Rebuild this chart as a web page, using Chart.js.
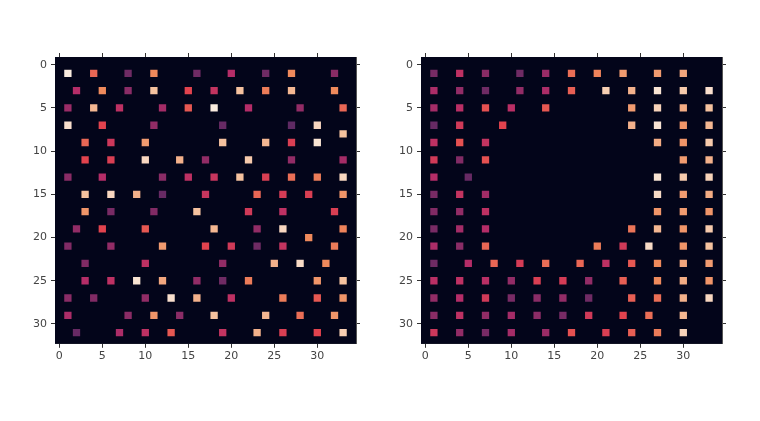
<!DOCTYPE html>
<html><head><meta charset="utf-8">
<script src="https://cdn.jsdelivr.net/npm/chart.js@4"></script>
<style>
html,body{margin:0;padding:0;background:#fff;width:760px;height:421px;overflow:hidden}
.box{position:absolute;top:0;width:380px;height:421px}
</style></head><body>
<div class="box" style="left:0"><canvas id="c1"></canvas></div>
<div class="box" style="left:380px"><canvas id="c2"></canvas></div>
<script>
// rows: [row, [col, value], ...]
const leftRows = [
 [1, [1,6],[4,3.5],[8,1.2],[11,4],[16,1.2],[20,2],[24,1.2],[27,4],[32,1.5]],
 [3, [2,2],[5,4],[8,1.5],[11,5],[15,3],[18,2.3],[21,5],[24,3.8],[27,4.8],[32,4]],
 [5, [1,1.7],[4,4.8],[7,2.2],[12,1.8],[15,3.3],[18,6],[22,2],[28,1.6],[33,3.5]],
 [7, [1,5.7],[5,3],[11,1.6],[19,1.1],[27,1],[30,5.5]],
 [8, [33,5]],
 [9, [3,3.5],[6,2.5],[10,4.3],[19,5],[24,4.8],[27,2.8],[30,5.8]],
 [11,[3,3],[6,2.8],[10,5.5],[14,4.7],[17,1.6],[22,5.2],[27,1.6],[33,1.8]],
 [13,[1,1.5],[5,2],[12,1.5],[15,2.2],[18,2.4],[21,5],[24,2.8],[27,3.6],[30,3.8],[33,5.5]],
 [15,[3,5],[6,5.5],[9,4.7],[12,1.1],[17,2.4],[23,3.5],[26,2.7],[29,2.8],[33,4.2]],
 [17,[3,4.2],[6,1.3],[11,1.4],[16,5],[22,2.6],[26,2.2],[32,2.8]],
 [19,[2,1.6],[5,3],[10,3.3],[18,4.8],[23,1.6],[26,5.5],[33,3.9]],
 [20,[29,4]],
 [21,[1,1.4],[6,1.6],[12,4.3],[17,3],[20,2.6],[23,1.2],[26,2.3],[32,3.8]],
 [23,[3,1.4],[10,2.2],[19,1.6],[25,4.7],[28,5.6],[31,4]],
 [25,[3,2],[6,2.2],[9,5.8],[12,4.5],[16,1.6],[19,1.2],[22,3.8],[30,4.2],[33,5]],
 [27,[1,1.5],[4,1.4],[10,1.6],[13,5.7],[16,4.7],[20,2.2],[26,3.8],[30,3.3],[33,4.2]],
 [29,[1,1.9],[8,1.5],[11,4.2],[14,1.5],[18,5],[24,4.8],[28,3.6],[32,4.2]],
 [31,[2,1.1],[7,1.9],[10,2.2],[13,3.3],[19,2.3],[23,4.7],[26,2.8],[30,3],[33,5.3]]
];
const rightRows = [
 [1, [1,1.3],[4,2.2],[7,1.5],[11,1.2],[14,1.7],[17,3.6],[20,3.9],[23,4.3],[27,4.3],[30,4.5]],
 [3, [1,1.9],[4,1.6],[7,1.2],[11,1.6],[14,1.9],[17,3.4],[21,5.3],[24,4.7],[27,5.8],[30,5.2],[33,5.7]],
 [5, [1,1.8],[4,2.1],[7,3.2],[10,2.1],[14,3.3],[24,4.3],[27,5.4],[30,4.6],[33,5]],
 [7, [1,1.1],[4,2.6],[9,3],[24,4.7],[27,5.8],[30,4.2],[33,4.8]],
 [9, [1,2.2],[4,3.2],[7,2.3],[27,4.6],[30,4.2],[33,5.2]],
 [11,[1,2.6],[4,1.4],[7,3.2],[30,4.3],[33,4.7]],
 [13,[1,2],[5,1.1],[27,5.8],[30,5.2],[33,5.4]],
 [15,[1,1.3],[4,2.3],[7,1.8],[27,5.6],[30,4.3],[33,4.6]],
 [17,[1,1.4],[4,1.6],[7,2.2],[27,4.2],[30,4.3],[33,4.2]],
 [19,[1,1.3],[4,1.8],[7,2],[24,3.7],[27,4.8],[30,4.2],[33,5.2]],
 [21,[1,1.9],[4,1.5],[7,3.5],[20,3.8],[23,2.6],[26,5.6],[30,4.2],[33,5]],
 [23,[1,1.2],[5,2],[8,3.5],[11,2.7],[14,3.6],[18,3.5],[21,2.2],[24,3.3],[27,4],[30,4.5],[33,4.3]],
 [25,[1,2.1],[4,2.2],[7,2.1],[10,1.6],[13,2.8],[16,2.7],[19,1.6],[23,3.4],[27,4],[30,4.6],[33,4.2]],
 [27,[1,1.6],[4,2],[7,2.6],[10,1.3],[13,1.5],[16,1.6],[19,1.2],[24,3.4],[27,3.6],[30,4.7],[33,5.5]],
 [29,[1,1.5],[4,2.2],[7,1.6],[10,1.8],[13,1.5],[16,1.3],[19,2.6],[23,3],[26,3.6],[30,4.8]],
 [31,[1,2.5],[4,1.6],[7,1.3],[10,1.8],[14,1.7],[17,3.2],[21,2.8],[24,3.4],[27,3.8],[30,5.4]]
];
const tickValues = [0,5,10,15,20,25,30];

const stops = [[0x5e,0x2a,0x63],[0xb5,0x2d,0x68],[0xe2,0x43,0x4e],[0xef,0x8a,0x5c],[0xf5,0xc2,0x9f],[0xfa,0xec,0xe0]];
function cmap(v){
  let t = Math.max(0, Math.min(4.999, v-1)); const i = Math.floor(t), f = t-i;
  const a=stops[i], b=stops[i+1];
  return `rgb(${a.map((c,k)=>Math.round(c+(b[k]-c)*f)).join(',')})`;
}
function toPoints(rows){
  const pts=[]; rows.forEach(r=>{ for(let k=1;k<r.length;k++) pts.push({x:r[k][0], y:r[0], v:r[k][1]}); });
  return pts;
}
const bgPlugin = {id:'bg', beforeDatasetsDraw(ch){const a=ch.chartArea,c=ch.ctx;c.save();c.fillStyle='#03051a';c.fillRect(a.left,a.top,a.right-a.left,a.bottom-a.top);c.restore();}};
function setTicks(s){ s.ticks = tickValues.map(v=>({value:v})); }
function make(id, rows, padL, padR){
  const axisCommon = {grid:{drawOnChartArea:false, drawTicks:true, tickLength:4, color:'#333'}, border:{color:'#555'}, afterBuildTicks:setTicks};
  const rad = c=>{const s=c.chart.scales.x; return Math.abs(s.getPixelForValue(1)-s.getPixelForValue(0))*0.85/Math.SQRT2;};
  new Chart(document.getElementById(id), {
    type:'scatter',
    data:{datasets:[{data:toPoints(rows), pointStyle:'rect',
      backgroundColor:c=>c.raw?cmap(c.raw.v):'#000', borderWidth:0,
      pointRadius:rad, pointHoverRadius:rad}]},
    options:{responsive:false, animation:false, events:[],
      layout:{padding:{left:padL, right:padR, top:52, bottom:56}},
      plugins:{legend:{display:false}, tooltip:{enabled:false}},
      scales:{
        x:{...axisCommon, type:'linear', position:'bottom', min:-0.5, max:34.5, ticks:{color:'#444', font:{family:'DejaVu Sans', size:11}, padding:2}},
        x2:{...axisCommon, type:'linear', position:'top', min:-0.5, max:34.5, ticks:{display:false}, afterFit:s=>{s.height=5;}},
        y:{...axisCommon, type:'linear', position:'left', reverse:true, min:-0.9, max:32.3, ticks:{color:'#444', font:{family:'DejaVu Sans', size:11}, padding:4}, afterFit:s=>{s.width=30;}},
        y2:{...axisCommon, type:'linear', position:'right', reverse:true, min:-0.9, max:32.3, ticks:{display:false}, afterFit:s=>{s.width=5;}}
      }},
    plugins:[bgPlugin]
  });
}
document.getElementById('c1').width=380;document.getElementById('c1').height=421;
document.getElementById('c2').width=380;document.getElementById('c2').height=421;
make('c1', leftRows, 25, 19);
make('c2', rightRows, 11, 33);
</script></body></html>
